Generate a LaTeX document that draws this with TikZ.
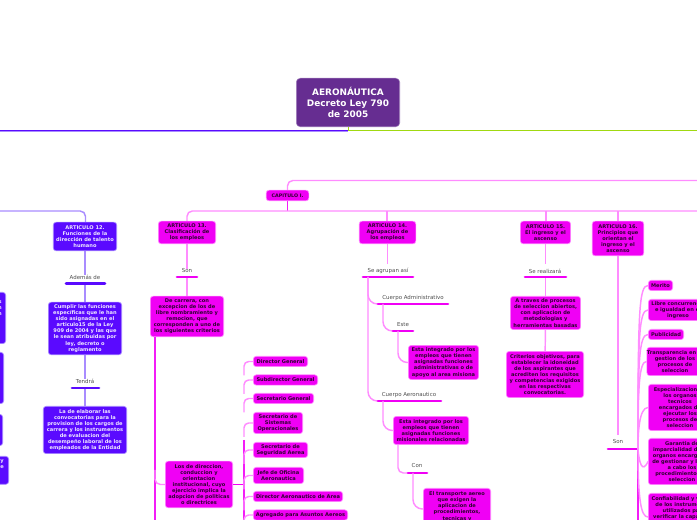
\documentclass[tikz,border=0pt]{standalone}
\usepackage{fontspec}
\setmainfont{DejaVu Sans}
\definecolor{mag}{HTML}{F000F5}
\definecolor{magl}{HTML}{FF8CFF}
\definecolor{vio}{HTML}{5A0AFF}
\definecolor{viol}{HTML}{A98CFF}
\definecolor{rootc}{HTML}{662D91}
\definecolor{grn}{HTML}{A0D911}
\tikzset{
 mbox/.style={rectangle,rounded corners=2.2pt,fill=mag,draw=magl,line width=.5pt,align=center,inner sep=0pt,text=black!80!mag,font=\fontsize{3.82}{4.55}\selectfont\bfseries},
 vbox/.style={rectangle,rounded corners=2.2pt,fill=vio,draw=viol,line width=.5pt,align=center,inner sep=0pt,text=white!90!vio,font=\fontsize{3.82}{4.55}\selectfont\bfseries},
 lab/.style={inner sep=0pt,text=black!70,font=\fontsize{4.1}{5}\selectfont},
 mline/.style={magl,line width=1.1pt,rounded corners=4pt},
 vline/.style={viol,line width=1.1pt,rounded corners=4pt},
 mbar/.style={mag,line width=2pt,line cap=round},
 vbar/.style={vio,line width=2pt,line cap=round},
 trunkline/.style={mag!80!magl,line width=1.2pt},
}
\begin{document}
\begin{tikzpicture}[x=.75pt,y=-.75pt]
\useasboundingbox (0,0) rectangle (697,520);
\clip (0,0) rectangle (697,520);
% connector coordinates
\coordinate (leftA) at (-5,211);
\coordinate (rightA) at (705,211);
\coordinate (rightB) at (705,180.5);
\coordinate (leftR) at (-5,130.5);
\coordinate (rightR) at (705,130.5);
% root
\node[rectangle,rounded corners=3pt,fill=rootc,draw=rootc!60!white,line width=.4pt,text=white,align=center,inner sep=0pt,minimum width=77.6pt,minimum height=36.4pt,font=\fontsize{6.7}{8.2}\selectfont\bfseries] (root) at (348,102.5) {AERONÁUTICA\\Decreto Ley 790\\de 2005};
\draw[vio,line width=1.1pt] (leftR) -- (348,130.5) coordinate (rc);
\draw[viol,line width=.5pt] (leftR)++(0,1) -- (348,131.5);
\draw[grn,line width=1.3pt] (rc) -- (rightR);
\draw[grn,line width=.6pt] (root.south) -- (rc);
% connectors level 2
\draw[mline] (287.5,190) -- (287.5,180.5) -- (rightB);
\draw[trunkline] (287.5,201) -- (287.5,211);
\draw[vline] (leftA) -- (85.5,211) -- (85.5,222);
\draw[mline] (187,222) -- (187,211) -- (rightA);
\draw[mline] (387,222) -- (387,211);
\draw[mline] (546,222) -- (546,211);
\draw[mline] (618,222) -- (618,211);
% CAPITULO
\node[mbox,minimum width=32pt,minimum height=8pt,font=\fontsize{3.6}{4.2}\selectfont\bfseries] (cap) at (287.5,195.5) {CAPITULO I.};
% Art 12 column
\node[vbox,minimum width=47.6pt,minimum height=21.5pt] (a12) at (85,236.5) {ARTICULO 12.\\Funciones de la\\dirección de talento\\humano};
\node[lab] (l12) at (85,277) {Además de};
\node[vbox,minimum width=55pt,minimum height=39.5pt] (b12a) at (85,328.5) {Cumplir las funciones\\específicas que le han\\sido asignadas en el\\articulo15 de la Ley\\909 de 2004 y las que\\le sean atribuidas por\\ley, decreto o\\reglamento};
\node[lab] (l12b) at (85,381) {Tendrá};
\node[vbox,minimum width=62.6pt,minimum height=35.5pt] (b12b) at (85,430) {La de elaborar las\\convocatorias para la\\provision de los cargos de\\carrera y los instrumentos\\de evaluacion del\\desempeño laboral de los\\empleados de la Entidad};
\coordinate (l12s) at (66,283.5); \coordinate (l12e) at (105,283.5);
\coordinate (l12bs) at (72,388); \coordinate (l12be) at (99,388);
\draw[vline] (a12) -- (l12);
\draw[vline] (85,284) -- (b12a);
\draw[vline] (b12a) -- (l12b);
\draw[vline] (85,388) -- (b12b);
\draw[vbar] (l12s) -- (l12e);
\draw[vbar] (l12bs) -- (l12be);
% left fragments
\node[vbox,anchor=north east,minimum width=20pt,minimum height=38.5pt] (f1) at (6,292) {};
\node[vbox,anchor=north east,minimum width=20pt,minimum height=38.5pt] (f2) at (4,352) {};
\node[vbox,anchor=north east,minimum width=20pt,minimum height=23.5pt] (f3) at (3,414) {};
\node[vbox,anchor=north east,minimum width=20pt,minimum height=21pt] (f4) at (9,456) {};
\node[inner sep=0pt,align=right,anchor=north east,text=white!90!vio,font=\fontsize{3.82}{4.55}\selectfont\bfseries] (f1t) at (2,300.5) {s\\n\\n};
\node[inner sep=0pt,align=right,anchor=north east,text=white!90!vio,font=\fontsize{3.82}{4.55}\selectfont\bfseries] (f4t) at (4,459) {y\\e};
% Art 13 column
\node[mbox,minimum width=43pt,minimum height=17pt] (a13) at (187,232.5) {ARTICULO 13.\\Clasificación de\\los empleos};
\node[lab] (l13) at (187,271) {Son};
\coordinate (l13s) at (177,277); \coordinate (l13e) at (197,277);
\node[mbox,minimum width=55pt,minimum height=30.5pt] (b13) at (187,316.5) {De carrera, con\\excepcion de los de\\libre nombramiento y\\remocion, que\\corresponden a uno de\\los siguientes criterios};
\node[mbox,minimum width=50.5pt,minimum height=35pt] (b13d) at (199,484.5) {Los de direccion,\\conduccion y\\orientacion\\institucional, cuyo\\ejercicio implica la\\adopcion de politicas\\o directrices};
\draw[mline] (a13) -- (l13);
\draw[mline] (187,277) -- (b13);
\draw[mbar] (l13s) -- (l13e);
\draw[trunkline] (155,337) -- (155,525);
\draw[mline] (155,470) -- (155,484.5) -- (b13d.west);
\coordinate (trunk) at (244,484.5);
\draw[mag,line width=1.4pt] (b13d.east) -- (trunk);
\draw[trunkline] (244,440) -- (244,525);
\foreach \nm/\xx/\yy/\hh/\tt in {
 d1/280.5/361.5/11/Director General,
 d2/285.5/380/11/Subdirector General,
 d3/283.5/398.5/11/Secretario General,
 d4/278/423/22/Secretario de\\Sistemas\\Operacionales,
 d5/280.5/450/16/Secretario de\\Seguridad Aerea,
 d6/278.5/475.5/17/Jefe de Oficina\\Aeronautica,
 d7/298/496.5/11/Director Aeronautico de Area,
 d8/300.5/515/11/Agregado para Asuntos Aereos}{
 \pgfmathsetlengthmacro{\bw}{(\xx-253)*2*.75pt-.5pt}
 \pgfmathsetlengthmacro{\bh}{\hh*.75pt-.5pt}
 \node[mbox,minimum width=\bw,minimum height=\bh] (\nm) at (\xx,\yy) {\tt};
 \draw[mline,rounded corners=3.5pt] (244,\yy+14) -- (244,\yy) -- (\nm.west);
}
% Art 14 column
\node[mbox,minimum width=42.5pt,minimum height=17pt] (a14) at (387.5,232.5) {ARTICULO 14.\\Agrupación de\\los empleos};
\node[lab] (l14) at (388,271) {Se agrupan así};
\coordinate (l14s) at (363,277); \coordinate (l14e) at (413,277);
\draw[mline] (a14) -- (387.5,264);
\draw[mbar] (l14s) -- (l14e);
\node[lab] (ca) at (413,298) {Cuerpo Administrativo};
\coordinate (cas) at (378,304); \coordinate (cae) at (448,304);
\node[lab] (cb) at (409,395) {Cuerpo Aeronautico};
\coordinate (cbs) at (378,401); \coordinate (cbe) at (441,401);
\draw[mline,rounded corners=7pt] (368,277) -- (368,304) -- (cas);
\draw[mline,rounded corners=7pt] (368,277) -- (368,401) -- (cbs);
\draw[mbar] (cas) -- (cae);
\draw[mbar] (cbs) -- (cbe);
\node[lab] (es) at (403,325) {Este};
\coordinate (ess) at (393,331); \coordinate (ese) at (413,331);
\draw[mline,rounded corners=7pt] (383,304) -- (383,331) -- (ess);
\draw[mbar] (ess) -- (ese);
\node[mbox,minimum width=52.7pt,minimum height=25.7pt] (b14a) at (443.5,362.5) {Esta integrado por los\\empleos que tienen\\asignadas funciones\\administrativas o de\\apoyo al area misiona};
\draw[mline,rounded corners=7pt] (398,331) -- (398,362.5) -- (b14a.west);
\node[mbox,minimum width=56.5pt,minimum height=21.2pt] (b14b) at (431,430.5) {Esta integrado por los\\empleos que tienen\\asignadas funciones\\misionales relacionadas};
\draw[mline,rounded corners=7pt] (383,401) -- (383,430.5) -- (b14b.west);
\node[lab] (cn) at (417,466) {Con};
\coordinate (cns) at (408,473); \coordinate (cne) at (427,473);
\draw[mline] (398,445) -- (398,473) -- (cns);
\draw[mbar] (cns) -- (cne);
\node[mbox,minimum width=50.5pt,minimum height=31pt] (b14c) at (457,509) {El transporte aereo\\que exigen la\\aplicacion de\\procedimientos,\\tecnicas y\\};
\draw[mline,rounded corners=7pt] (413,473) -- (413,509) -- (b14c.west);
% Art 15 column
\node[mbox,minimum width=37.7pt,minimum height=17pt] (a15) at (545.5,232.5) {ARTICULO 15.\\El ingreso y el\\ascenso};
\node[lab] (l15) at (545,271) {Se realizará};
\coordinate (l15s) at (525,277); \coordinate (l15e) at (566,277);
\node[mbox,minimum width=52.7pt,minimum height=25pt] (b15a) at (545.5,313) {A traves de procesos\\de seleccion abiertos,\\con aplicacion de\\metodologias y\\herramientas basadas};
\node[mbox,minimum width=58pt,minimum height=34.7pt] (b15b) at (545,374.5) {Criterios objetivos, para\\establecer la idoneidad\\de los aspirantes que\\acrediten los requisitos\\y competencias exigidos\\en las respectivas\\convocatorias.};
\draw[mline] (a15) -- (545.5,264);
\draw[mline] (545.5,278) -- (b15a);
\draw[mline] (b15a) -- (b15b);
\draw[mbar] (l15s) -- (l15e);
% Art 16 column
\node[mbox,minimum width=38.7pt,minimum height=26pt] (a16) at (618,238.5) {ARTICULO 16.\\Principios que\\orientan el\\ingreso y el\\ascenso};
\node[lab] (l16) at (618,442) {Son};
\coordinate (l16s) at (608,449); \coordinate (l16e) at (628,449);
\draw[mline] (a16) -- (618,435);
\draw[mbar] (l16s) -- (l16e);
\draw[mag,line width=1.4pt] (l16e) -- (638,449);
\draw[trunkline] (638,449) -- (638,525);
\foreach \nm/\xx/\yy/\ww/\hh/\tt in {
 p1/660.5/285.5/25/11/Merito,
 p2/678/310/60/22/Libre concurrencia\\e igualdad en el\\ingreso,
 p3/666/334.5/36/11/Publicidad,
 p4/675/361.5/54/29/Transparencia en la\\gestion de los\\procesos de\\seleccion,
 p5/680/407.5/64/47/Especializacion de\\los organos\\tecnicos\\encargados de\\ejecutar los\\procesos de\\seleccion,
 p6/682/461.5/68/47/Garantia de\\imparcialidad de los\\organos encargados\\de gestionar y llevar\\a cabo los\\procedimientos de\\seleccion,
 p7/684/517/72/48/Confiabilidad y validez\\de los instrumentos\\utilizados para\\verificar la capacidad\\y competencias de\\los aspirantes\\}{
 \pgfmathsetlengthmacro{\bw}{\ww*.75pt-.5pt}
 \pgfmathsetlengthmacro{\bh}{\hh*.75pt-.5pt}
 \node[mbox,minimum width=\bw,minimum height=\bh] (\nm) at (\xx,\yy) {\tt};
}
\foreach \nm/\yy in {p1/285.5,p2/310,p3/334.5,p4/361.5,p5/407.5}
 \draw[mline] (638,449) .. controls (638,\yy+26) and (639,\yy) .. (\nm.west |- 0,\yy);
\foreach \nm/\yy in {p6/461.5}
 \draw[mline] (638,449) .. controls (639,\yy+0) and (642,\yy+13) .. (\nm.west |- 0,\yy);
\draw[mline] (638,449) .. controls (638,500) and (641,517) .. (p7.west |- 0,517);
\end{tikzpicture}
\end{document}
